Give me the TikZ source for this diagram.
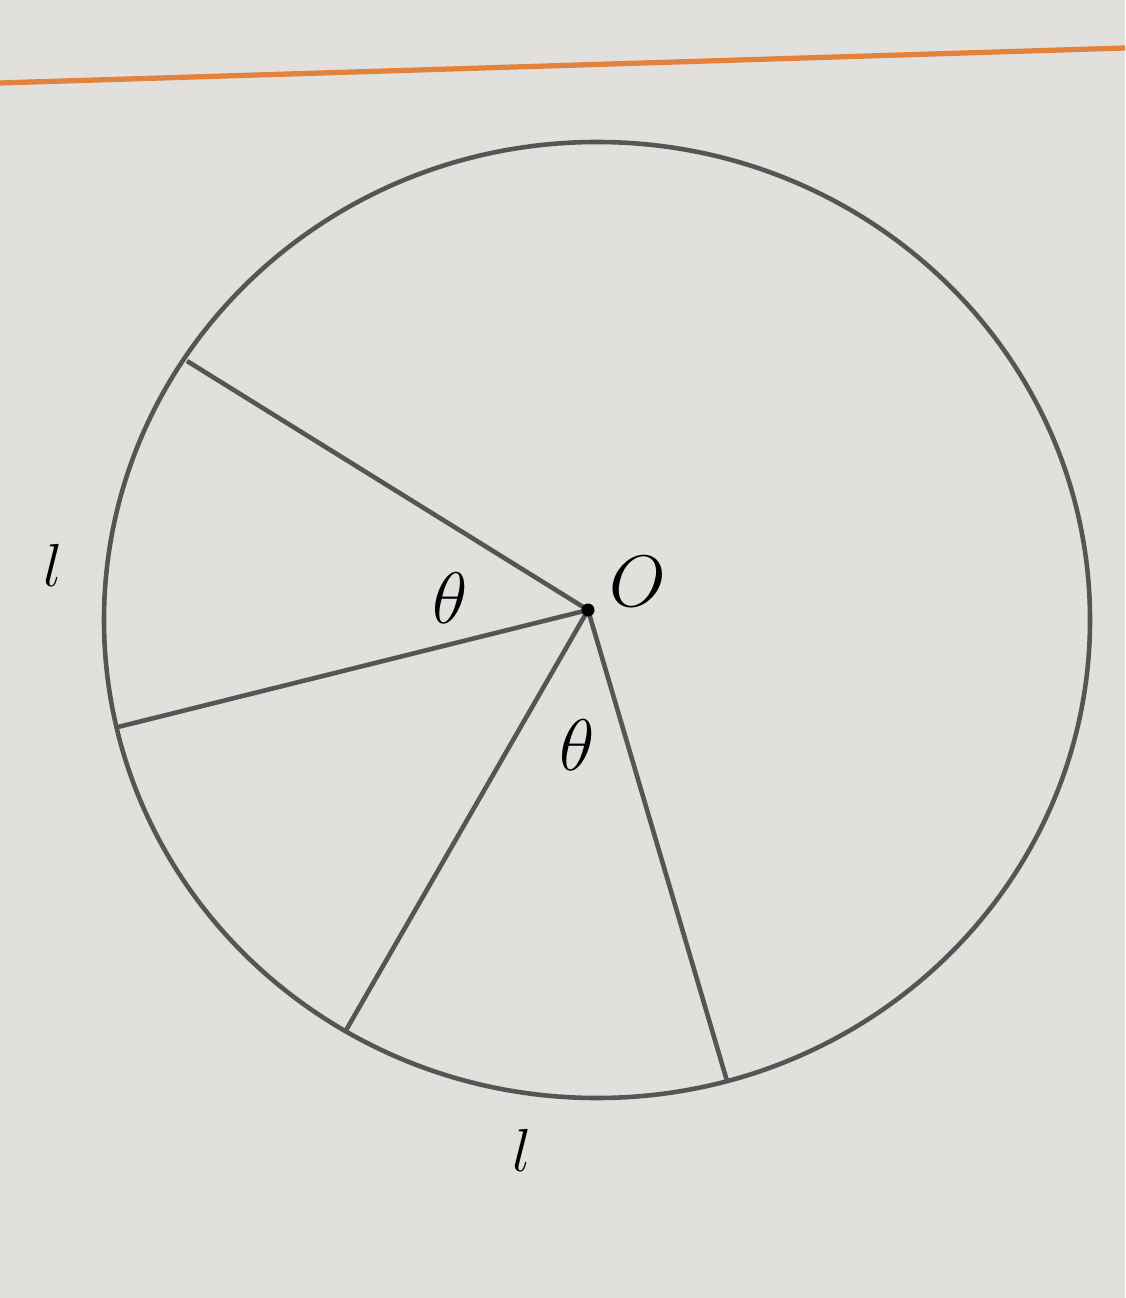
\documentclass[tikz,border=0pt]{standalone}
\usepackage{tikz}
\definecolor{paper}{RGB}{226,224,220}
\definecolor{ink}{RGB}{85,85,85}
\definecolor{rule}{RGB}{226,130,60}
\begin{document}
\begin{tikzpicture}[x=0.01cm,y=-0.01cm,
        line width=1.3pt, draw=ink,
        lbl/.style={inner sep=0pt, font=\fontsize{20}{24}\selectfont}]
            \fill[paper] (0,0) rectangle (1125,1298);
            \useasboundingbox (0,0) rectangle (1125,1298);
            \draw[rule, line width=1.5pt] (0,83) -- (1125,48);

            \draw (597,620) ellipse [x radius=493, y radius=478];

            \coordinate (O) at (588,610);
            \coordinate (A) at (187,361);
            \coordinate (B) at (118,727);
            \coordinate (C) at (345,1032);
            \coordinate (D) at (727,1081);

            \draw (O) to (A); \draw (O) to (B);
            \draw (O) to (C); \draw (O) to (D);
            \fill[black] (O) circle (6.5);

            \node[lbl] (o) at (638,582) {\(O\)};
            \node[lbl] (t1) at (450,598) {\(\theta\)};
            \node[lbl] (t2) at (577,745) {\(\theta\)};
            \node[lbl, font=\fontsize{18}{22}\selectfont] (l1) at (53,565) {\(l\)};
            \node[lbl, font=\fontsize{18}{22}\selectfont] (l2) at (522,1150) {\(l\)};
        \end{tikzpicture}
\end{document}
